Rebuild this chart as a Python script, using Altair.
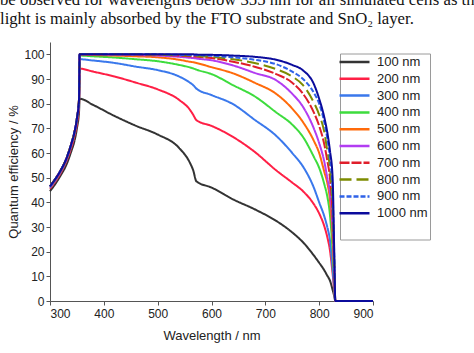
import altair as alt
import pandas as pd

wavelengths = [300, 310, 320, 330, 340, 345, 350, 354, 355, 380, 420, 460, 500, 540,
               560, 566, 572, 600, 640, 680, 720, 750, 770, 790, 800, 810, 815, 820,
               825, 828, 830, 900]

series_labels = ["100 nm", "200 nm", "300 nm", "400 nm", "500 nm",
                 "600 nm", "700 nm", "800 nm", "900 nm", "1000 nm"]

qe_100 = [44.5, 47.5, 51, 55, 61, 64.5, 70, 77,
          82, 79.5, 75, 71, 67.5, 62, 56, 53, 48.5, 46, 41.2, 37.2, 32.5, 27.8, 23.8,
          18.5, 15.5, 12.3, 10.3, 8.3, 4.5, 2, 0, 0]
qe_200 = [45.5, 48.5, 52, 56.5, 62.5, 66.5, 72, 80,
          94.2, 93, 91, 88.5, 85.8, 81.5, 77.5, 75.5, 73.3, 71, 66.5, 60.5, 53, 48, 44.5,
          39.3, 35.5, 30, 26, 20.6, 11, 4.5, 0, 0]
qe_300 = [46, 49, 52.5, 57, 63.5, 67.5, 73.5, 81.5,
          98, 97.5, 96.5, 95, 93.6, 91, 88.5, 87.5, 86.1, 83.5, 79.8, 73.5, 67, 60, 54.5,
          46, 40, 34, 30, 24.7, 13, 5, 0, 0]
qe_400 = [46.5, 49.5, 53, 57.5, 64, 68, 74, 82,
          99.5, 99.2, 98.7, 98, 97.2, 95.7, 94.7, 94.3, 93.8, 92, 87.5, 83, 76.5, 71.5, 66.5,
          58.5, 54, 47, 42.5, 35, 20, 8, 0, 0]
qe_500 = [46.5, 49.5, 53, 57.5, 64, 68, 74, 82,
          99.8, 99.7, 99.5, 99.2, 98.8, 97.8, 97, 96.8, 96.5, 94.8, 92.3, 88.5, 84, 78, 72.5,
          65, 60, 52, 48, 41, 26, 10, 0, 0]
qe_600 = [46.5, 49.5, 53, 57.5, 64, 68, 74, 82,
          100, 100, 99.9, 99.7, 99.5, 99, 98.6, 98.5, 98.3, 97.6, 95.5, 92.5, 89.5, 84, 78.7,
          70, 64, 56, 50, 44, 30, 12, 0, 0]
qe_700 = [46.5, 49.5, 53, 57.5, 64, 68, 74, 82,
          100, 100, 100, 99.9, 99.8, 99.5, 99.2, 99.1, 99, 98.5, 97, 95, 92, 88.5, 84,
          76.5, 71, 63, 57, 50, 34, 14, 0, 0]
qe_800 = [46.5, 49.5, 53, 57.5, 64, 68, 74, 82,
          100, 100, 100, 100, 99.9, 99.7, 99.5, 99.4, 99.3, 99, 98, 96.5, 94, 91, 87.5,
          80.5, 75.5, 68, 61, 54, 38, 16, 0, 0]
qe_900 = [46.5, 49.5, 53, 57.5, 64, 68, 74, 82,
          100, 100, 100, 100, 100, 99.8, 99.7, 99.6, 99.6, 99.4, 98.8, 97.8, 96, 93, 90,
          84.5, 80, 72, 66, 58, 44, 18, 0, 0]
qe_1000 = [46.5, 49.5, 53, 57.5, 64, 68, 74, 82,
           100, 100, 100, 100, 100, 100, 100, 100, 99.9, 99.8, 99.5, 99, 97.8, 95.7, 93.5,
           88, 82, 74, 68.5, 61, 50, 20, 0, 0]

all_series = [qe_100, qe_200, qe_300, qe_400, qe_500, qe_600, qe_700, qe_800, qe_900, qe_1000]

colors = ["#333333", "#ff1f45", "#3a78ec", "#3ddc3d", "#ff6a0a",
          "#b23cf2", "#e01e2a", "#7d8c00", "#2f62e8", "#0b0b9c", "rgba(0,0,0,0)"]
dashes = [[1, 0], [1, 0], [1, 0], [1, 0], [1, 0],
          [1, 0], [10, 2], [12, 5], [5, 2], [1, 0], [1, 0]]

rows = []
for label, vals in zip(series_labels, all_series):
    for w, v in zip(wavelengths, vals):
        rows.append({"wl": w, "qe": v, "series": label})
df = pd.DataFrame(rows)

domain = series_labels + [" "]

legend_kw = dict(title=None, orient="none", legendX=290, legendY=11.5,
                 padding=2, rowPadding=2.8, labelFontSize=13,
                 symbolType="M-3,0H3", symbolSize=100, symbolOffset=6,
                 symbolStrokeWidth=2.5, labelOffset=16,
                 strokeColor="#9a9a9a", fillColor="white")

lines = alt.Chart(df).mark_line(strokeWidth=2, interpolate="monotone").encode(
    x=alt.X("wl:Q", scale=alt.Scale(domain=[300, 900], nice=False),
            axis=alt.Axis(values=[300, 400, 500, 600, 700, 800, 900], title="Wavelength / nm",
                          grid=False, tickSize=4, labelFontSize=12, titleFontSize=13,
                          titlePadding=10, labelPadding=3)),
    y=alt.Y("qe:Q", scale=alt.Scale(domain=[0, 105], nice=False),
            axis=alt.Axis(values=list(range(0, 101, 10)), title="Quantum efficiency / %",
                          grid=False, tickSize=4, labelFontSize=12, titleFontSize=13,
                          titleAngle=-90, titleX=-37, titleY=129.5, titleAlign="center",
                          titleBaseline="middle", labelPadding=2)),
    color=alt.Color("series:N", scale=alt.Scale(domain=domain, range=colors),
                    legend=alt.Legend(**legend_kw)),
    strokeDash=alt.StrokeDash("series:N", scale=alt.Scale(domain=domain, range=dashes),
                              legend=alt.Legend(**legend_kw)),
    order=alt.Order("wl:Q"),
)

chart = lines.properties(
    width=323, height=259,
    padding={"left": 50, "top": 42, "right": 101, "bottom": 52},
    autosize=alt.AutoSizeParams(type="none"),
    title=alt.TitleParams(
        text=["be observed for wavelengths below 355 nm for all simulated cells as the",
              "light is mainly absorbed by the FTO substrate and SnO\u2082 layer."],
        anchor="start", frame="group", dx=-50, offset=14, fontSize=16.7,
        font="Liberation Serif", fontWeight="normal", color="#111", lineHeight=19.5,
    ),
).configure_view(stroke=None).configure_axis(
    domainColor="#555", tickColor="#555", labelColor="#222", titleColor="#222",
    labelFont="Liberation Sans", titleFont="Liberation Sans", titleFontWeight="normal",
).configure_legend(labelFont="Liberation Sans", labelColor="#222")

chart.save("out.html", embed_options={"renderer": "svg", "actions": False})
